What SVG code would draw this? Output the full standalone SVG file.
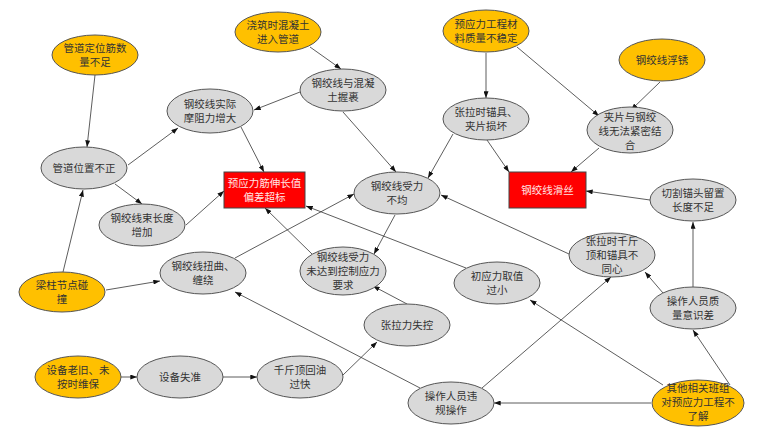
<svg xmlns="http://www.w3.org/2000/svg" width="760" height="437" viewBox="0 0 760 437">
<defs>
<marker id="ah" viewBox="0 0 8 6" refX="8" refY="3" markerWidth="7" markerHeight="5" markerUnits="userSpaceOnUse" orient="auto"><path d="M0,0 L8,3 L0,6 z" fill="#111"/></marker>
<style>
.g ellipse{fill:#d9d9d9;stroke:#555;stroke-width:1}
.o ellipse{fill:#ffc000;stroke:#555;stroke-width:1}
.r rect{fill:#ff0000;stroke:#444;stroke-width:1}
text{font-family:"Noto Sans CJK SC","Noto Sans",sans-serif;font-size:10.5px;fill:#333;text-anchor:middle}
.r text{fill:#ffe6e6}
#edges line{stroke:#333;stroke-width:0.8;marker-end:url(#ah)}
</style>
</defs>
<rect width="760" height="437" fill="#fff"/>
<g id="edges">
<line x1="95" y1="75" x2="87" y2="147"/>
<line x1="128" y1="165" x2="178" y2="128"/>
<line x1="115" y1="184" x2="142" y2="204"/>
<line x1="310" y1="47" x2="341" y2="69"/>
<line x1="300" y1="92" x2="254" y2="110"/>
<line x1="343" y1="112" x2="396" y2="172"/>
<line x1="241" y1="127" x2="264" y2="172"/>
<line x1="186" y1="225" x2="224" y2="191"/>
<line x1="486" y1="53" x2="486" y2="98"/>
<line x1="517" y1="47" x2="599" y2="116"/>
<line x1="660" y1="82" x2="631" y2="110"/>
<line x1="453" y1="134" x2="428" y2="178"/>
<line x1="487" y1="140" x2="509" y2="172"/>
<line x1="599" y1="148" x2="571" y2="172"/>
<line x1="650" y1="200" x2="586" y2="191"/>
<line x1="395" y1="215" x2="374" y2="254"/>
<line x1="235" y1="258" x2="354" y2="194"/>
<line x1="312" y1="254" x2="265" y2="208"/>
<line x1="466" y1="268" x2="306" y2="206"/>
<line x1="569" y1="254" x2="441" y2="195"/>
<line x1="63" y1="272" x2="83" y2="190"/>
<line x1="106" y1="290" x2="160" y2="281"/>
<line x1="407" y1="304" x2="373" y2="286"/>
<line x1="420" y1="388" x2="235" y2="292"/>
<line x1="343" y1="375" x2="377" y2="342"/>
<line x1="121" y1="377" x2="137" y2="377"/>
<line x1="223" y1="377" x2="257" y2="377"/>
<line x1="482" y1="388" x2="611" y2="277"/>
<line x1="651" y1="403" x2="494" y2="403"/>
<line x1="663" y1="385" x2="530" y2="300"/>
<line x1="730" y1="385" x2="693" y2="330"/>
<line x1="663" y1="293" x2="645" y2="272"/>
<line x1="693" y1="287" x2="693" y2="222"/>
</g>
<g id="n1" class="o"><ellipse cx="95" cy="55" rx="43" ry="20"/><text x="95" y="52">管道定位筋数</text><text x="95" y="66">量不足</text></g>
<g id="n2" class="o"><ellipse cx="278" cy="32" rx="43" ry="20"/><text x="278" y="29">浇筑时混凝土</text><text x="278" y="43">进入管道</text></g>
<g id="n3" class="o"><ellipse cx="486" cy="31" rx="43" ry="21"/><text x="486" y="28">预应力工程材</text><text x="486" y="42">料质量不稳定</text></g>
<g id="n4" class="o"><ellipse cx="662" cy="60" rx="43" ry="21"/><text x="662" y="64">钢绞线浮锈</text></g>
<g id="n5" class="g"><ellipse cx="210" cy="111" rx="43" ry="22"/><text x="210" y="108">钢绞线实际</text><text x="210" y="122">摩阻力增大</text></g>
<g id="n6" class="g"><ellipse cx="343" cy="90" rx="43" ry="21"/><text x="343" y="87">钢绞线与混凝</text><text x="343" y="101">土握裹</text></g>
<g id="n7" class="g"><ellipse cx="486" cy="119" rx="43" ry="21"/><text x="486" y="116">张拉时锚具、</text><text x="486" y="130">夹片损坏</text></g>
<g id="n8" class="g"><ellipse cx="630" cy="130" rx="43" ry="23"/><text x="630" y="121">夹片与钢绞</text><text x="630" y="135">线无法紧密结</text><text x="630" y="149">合</text></g>
<g id="n9" class="g"><ellipse cx="84" cy="168" rx="43" ry="21"/><text x="84" y="172">管道位置不正</text></g>
<g id="n10" class="r"><rect x="224" y="172" width="81" height="36"/><text x="264.5" y="187">预应力筋伸长值</text><text x="264.5" y="201">偏差超标</text></g>
<g id="n11" class="g"><ellipse cx="397" cy="193" rx="43" ry="21"/><text x="397" y="190">钢绞线受力</text><text x="397" y="204">不均</text></g>
<g id="n12" class="r"><rect x="509" y="172" width="77" height="36"/><text x="547.5" y="194">钢绞线滑丝</text></g>
<g id="n13" class="g"><ellipse cx="693" cy="200" rx="43" ry="21"/><text x="693" y="197">切割锚头留置</text><text x="693" y="211">长度不足</text></g>
<g id="n14" class="g"><ellipse cx="142" cy="225" rx="43" ry="21"/><text x="142" y="222">钢绞线束长度</text><text x="142" y="236">增加</text></g>
<g id="n15" class="g"><ellipse cx="203" cy="273" rx="43" ry="21"/><text x="203" y="270">钢绞线扭曲、</text><text x="203" y="284">缠绕</text></g>
<g id="n16" class="o"><ellipse cx="62" cy="292" rx="43" ry="20"/><text x="62" y="289">梁柱节点碰</text><text x="62" y="303">撞</text></g>
<g id="n17" class="g"><ellipse cx="343" cy="271" rx="43" ry="24"/><text x="343" y="261">钢绞线受力</text><text x="343" y="275">未达到控制应力</text><text x="343" y="289">要求</text></g>
<g id="n18" class="g"><ellipse cx="497" cy="283" rx="43" ry="21"/><text x="497" y="280">初应力取值</text><text x="497" y="294">过小</text></g>
<g id="n19" class="g"><ellipse cx="612" cy="255" rx="43" ry="22"/><text x="612" y="245">张拉时千斤</text><text x="612" y="259">顶和锚具不</text><text x="612" y="273">同心</text></g>
<g id="n20" class="g"><ellipse cx="693" cy="308" rx="43" ry="21"/><text x="693" y="305">操作人员质</text><text x="693" y="319">量意识差</text></g>
<g id="n21" class="g"><ellipse cx="407" cy="325" rx="43" ry="21"/><text x="407" y="329">张拉力失控</text></g>
<g id="n22" class="o"><ellipse cx="78" cy="377" rx="43" ry="21"/><text x="78" y="374">设备老旧、未</text><text x="78" y="388">按时维保</text></g>
<g id="n23" class="g"><ellipse cx="180" cy="377" rx="43" ry="21"/><text x="180" y="381">设备失准</text></g>
<g id="n24" class="g"><ellipse cx="300" cy="377" rx="43" ry="21"/><text x="300" y="374">千斤顶回油</text><text x="300" y="388">过快</text></g>
<g id="n25" class="g"><ellipse cx="451" cy="403" rx="43" ry="21"/><text x="451" y="400">操作人员违</text><text x="451" y="414">规操作</text></g>
<g id="n26" class="o"><ellipse cx="698" cy="403" rx="46" ry="23"/><text x="698" y="392">其他相关班组</text><text x="698" y="406">对预应力工程不</text><text x="698" y="420">了解</text></g>
</svg>
